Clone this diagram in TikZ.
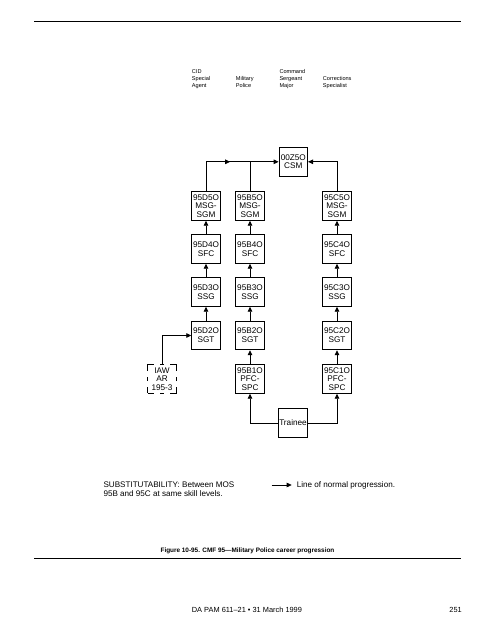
\documentclass[tikz,border=0pt]{standalone}
\usepackage{fontspec}
\setmainfont{Liberation Sans}
\usetikzlibrary{arrows.meta,calc}
\begin{document}
\begin{tikzpicture}[x=1pt,y=-1pt,
  box/.style={draw,line width=0.9pt,minimum width=28.5pt,minimum height=28.5pt,inner sep=0pt,align=center,font=\fontsize{8.2}{8.7}\selectfont},
  dashbox/.style={box,dash pattern=on 12pt off 6.25pt on 4pt off 6.25pt,dash phase=6pt},
  conn/.style={line width=0.8pt},
  arr/.style={conn,-{Triangle[length=5pt,width=4.5pt]}},
  hdr/.style={anchor=north west,inner sep=0pt,align=left,font=\fontsize{5.6}{7}\selectfont},
  legend/.style={inner sep=0pt,align=left,font=\fontsize{8.1}{9}\selectfont},
  pagerule/.style={line width=1pt}]
\fill[white] (0,0) rectangle (495,640);
\useasboundingbox (0,0) rectangle (495,640);
% page rules
\coordinate (r1a) at (34,21.3); \coordinate (r1b) at (461,21.3);
\coordinate (r2a) at (34,558.3); \coordinate (r2b) at (461,558.3);
\draw[pagerule] (r1a) -- (r1b);
\draw[pagerule] (r2a) -- (r2b);
% headers
\node[hdr] (h1) at (191.7,69.3) {CID\\Special\\Agent};
\node[hdr] (h2) at (235.7,76.3) {Military\\Police};
\node[hdr] (h3) at (279.3,69.3) {Command\\Sergeant\\Major};
\node[hdr] (h4) at (322.7,76.3) {Corrections\\Specialist};
% boxes
\node[box] (Z) at (293.3,161.8) {00Z5O\\CSM};
\node[box] (D5) at (206,206) {95D5O\\MSG-\\SGM};
\node[box] (B5) at (250,206) {95B5O\\MSG-\\SGM};
\node[box] (C5) at (337,206) {95C5O\\MSG-\\SGM};
\node[box] (D4) at (206,249) {95D4O\\SFC};
\node[box] (B4) at (250,249) {95B4O\\SFC};
\node[box] (C4) at (337,249) {95C4O\\SFC};
\node[box] (D3) at (206,292) {95D3O\\SSG};
\node[box] (B3) at (250,292) {95B3O\\SSG};
\node[box] (C3) at (337,292) {95C3O\\SSG};
\node[box] (D2) at (206,335.5) {95D2O\\SGT};
\node[box] (B2) at (250,335.5) {95B2O\\SGT};
\node[box] (C2) at (337,335.5) {95C2O\\SGT};
\node[box] (B1) at (250,379) {95B1O\\PFC-\\SPC};
\node[box] (C1) at (337,379) {95C1O\\PFC-\\SPC};
\node[dashbox] (IAW) at (162,379) {IAW\\AR\\195-3};
\node[box] (T) at (293,423) {Trainee};
% top connections
\coordinate (jD) at (D5.north |- Z.west);
\coordinate (jB) at (B5.north |- Z.west);
\draw[arr] (D5.north) |- ($(jD)!0.55!(jB)$);
\draw[conn] (jD) -- (jB);
\draw[conn] (B5.north) -- (jB);
\draw[arr] (jB) -- (Z.west);
\draw[arr] (C5.north) |- (Z.east);
% vertical progressions
\foreach \c in {D,B,C}{
  \draw[arr] (\c4.north) -- (\c5.south);
  \draw[arr] (\c3.north) -- (\c4.south);
  \draw[arr] (\c2.north) -- (\c3.south);
}
\draw[arr] (B1.north) -- (B2.south);
\draw[arr] (C1.north) -- (C2.south);
\draw[arr] (IAW.north) |- (D2.west);
\draw[arr] (T.west) -| (B1.south);
\draw[arr] (T.east) -| (C1.south);
% legend
\node[legend,anchor=north west] (sub) at (103.3,482) {SUBSTITUTABILITY: Between MOS\\95B and 95C at same skill levels.};
\node[legend,anchor=west] (LN) at (296.7,485) {Line of normal progression.};
\coordinate (la) at (271.7,485);
\draw[arr] (la) -- ($(LN.west)+(-5,0)$);
% caption and footer
\node[inner sep=0pt,font=\bfseries\fontsize{6.4}{7}\selectfont] (cap) at (247.5,551) {Figure 10-95. CMF 95—Military Police career progression};
\node[inner sep=0pt,anchor=west,font=\fontsize{7.4}{9}\selectfont] (foot) at (191.7,610) {DA PAM 611–21 • 31 March 1999};
\node[inner sep=0pt,anchor=east,font=\fontsize{7.4}{9}\selectfont] (pg) at (462,610) {251};
\end{tikzpicture}
\end{document}
